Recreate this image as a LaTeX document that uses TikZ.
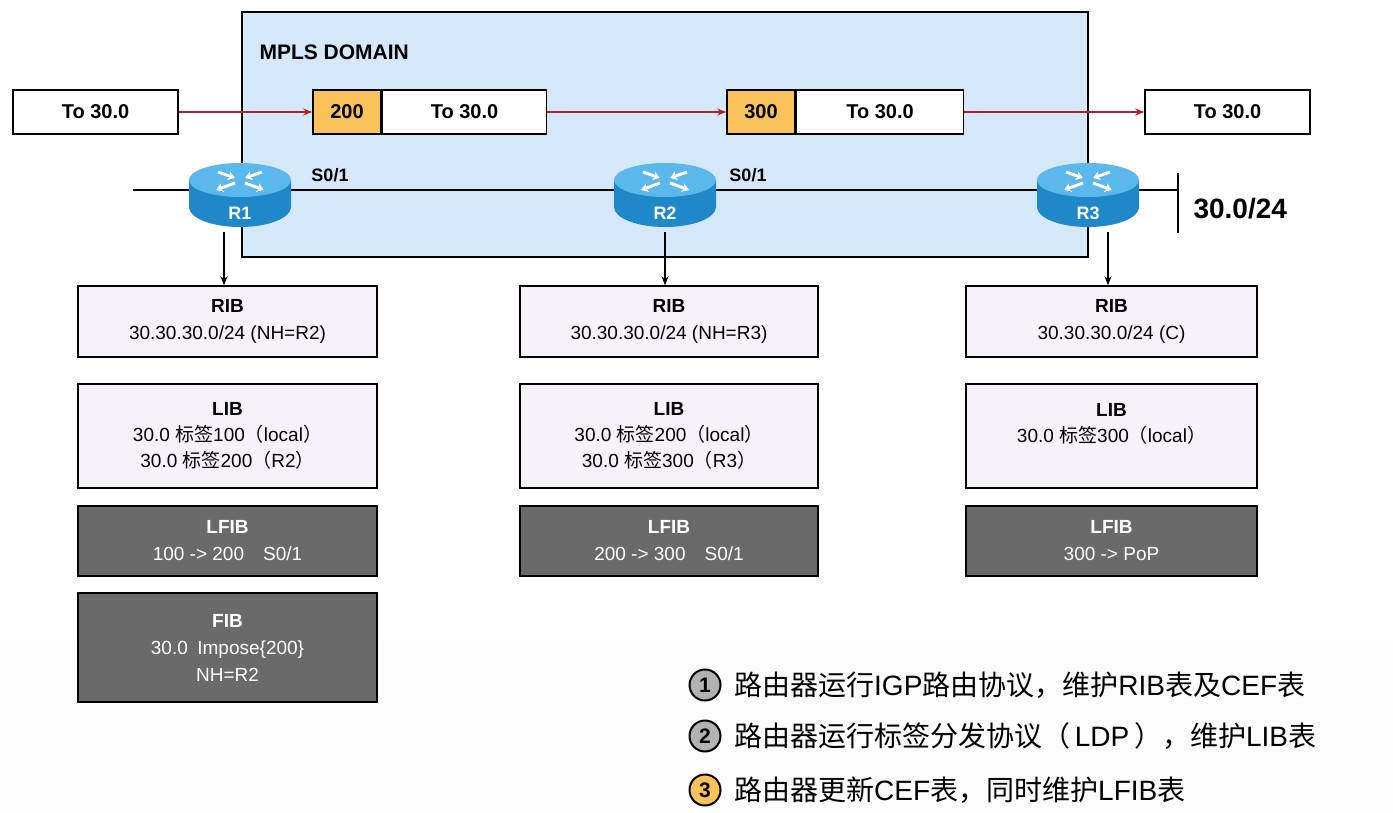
\documentclass[tikz,border=0pt]{standalone}
\usepackage{fontspec}
\setmainfont{Liberation Sans}
\newfontfamily\cjk{Noto Sans CJK SC}
\usetikzlibrary{arrows.meta}
\definecolor{dom}{HTML}{D4E8FA}
\definecolor{lbl}{HTML}{F9C25A}
\definecolor{tab}{HTML}{F5F2F8}
\definecolor{dark}{HTML}{6A6A6A}
\definecolor{rt}{HTML}{1E88C8}
\definecolor{rttop}{HTML}{5BB8EC}
\definecolor{arr}{HTML}{B22222}
\begin{document}
\begin{tikzpicture}[x=1pt,y=-1pt,
  box/.style={draw=black,line width=1.5pt,fill=white,inner sep=0pt,font=\fontsize{20}{24}\selectfont},
  tbl/.style={draw=black,line width=1.5pt,fill=tab,inner sep=0pt,align=center,font=\fontsize{19}{27}\selectfont},
  dtbl/.style={tbl,fill=dark,text=white},
  pk/.style={-{Stealth[length=9pt,width=7pt]},arr,line width=1.2pt},
  dn/.style={-{Stealth[length=9pt,width=7pt]},black,line width=1.2pt},
  num/.style={circle,draw=black,line width=2pt,minimum size=31pt,inner sep=0pt,font=\fontsize{21}{21}\selectfont\bfseries}]
\fill[white] (0,0) rectangle (1393,812);
\fill[white!92!gray!30] (0,640) rectangle (1393,812);
\draw[line width=1.5pt,fill=dom] (242,12) rectangle (1088,257);
\node[anchor=west,font=\fontsize{21}{21}\selectfont\bfseries] (mpls) at (256,52) {MPLS DOMAIN};
% packets
\node[box,minimum width=165pt,minimum height=44pt] (p1) at (95.5,112) {\textbf{To 30.0}};
\node[box,fill=lbl,minimum width=68pt,minimum height=44pt] (l2) at (347,112) {\textbf{200}};
\node[box,minimum width=164pt,minimum height=44pt,anchor=west] (p2) at (l2.east) {\textbf{To 30.0}};
\node[box,fill=lbl,minimum width=68pt,minimum height=44pt] (l3) at (761,112) {\textbf{300}};
\node[box,minimum width=167pt,minimum height=44pt,anchor=west] (p3) at (l3.east) {\textbf{To 30.0}};
\node[box,minimum width=165pt,minimum height=44pt] (p4) at (1227.5,112) {\textbf{To 30.0}};
\draw[pk] (p1.east) -- (l2.west);
\draw[pk] (p2.east) -- (l3.west);
\draw[pk] (p3.east) -- (p4.west);
% link line
\coordinate (lstart) at (133,190);
\coordinate (lend) at (1178,190);
\draw[line width=1.2pt] (lstart) -- (lend);
\draw[line width=1.5pt] (1178,173) -- (1178,233);
\node[anchor=west,font=\fontsize{28}{28}\selectfont\bfseries] (net) at (1190,209) {30.0/24};
% routers
\foreach \n/\x/\lab in {r1/240/R1,r2/665/R2,r3/1088/R3}{
  \begin{scope}[shift={(\x,0)}]
  \fill[rt] (-51,180) -- (-51,207) arc[start angle=180,end angle=0,x radius=51,y radius=20] -- (51,180) -- cycle;
  \fill[rttop] (0,180) ellipse[x radius=51,y radius=17];
  \draw[white,line width=3pt,-{Stealth[length=7pt,width=9pt]}] (-22,172) -- (-5,178);
  \draw[white,line width=3pt,-{Stealth[length=7pt,width=9pt]}] (22,172) -- (5,178);
  \draw[white,line width=3pt,-{Stealth[length=7pt,width=9pt]}] (-5,183) -- (-24,190);
  \draw[white,line width=3pt,-{Stealth[length=7pt,width=9pt]}] (5,183) -- (24,190);
  \end{scope}
  \node[text=white,font=\fontsize{18}{18}\selectfont\bfseries] (\n) at (\x,213) {\lab};
}
\node[font=\fontsize{18}{18}\selectfont\bfseries] (s1) at (330,175) {S0/1};
\node[font=\fontsize{18}{18}\selectfont\bfseries] (s2) at (748,175) {S0/1};
% tables
\node[tbl,minimum width=299pt,minimum height=71pt] (rib1) at (227.5,321.5) {\textbf{RIB}\\30.30.30.0/24 (NH=R2)};
\node[tbl,minimum width=298pt,minimum height=71pt] (rib2) at (669,321.5) {\textbf{RIB}\\30.30.30.0/24 (NH=R3)};
\node[tbl,minimum width=291pt,minimum height=71pt] (rib3) at (1111.5,321.5) {\textbf{RIB}\\30.30.30.0/24 (C)};
\node[tbl,minimum width=299pt,minimum height=104pt,font=\fontsize{19}{26}\selectfont] (lib1) at (227.5,436) {\textbf{LIB}\\30.0 {\cjk 标签}100{\cjk （}local{\cjk ）}\\30.0 {\cjk 标签}200{\cjk （}R2{\cjk ）}};
\node[tbl,minimum width=298pt,minimum height=104pt,font=\fontsize{19}{26}\selectfont] (lib2) at (669,436) {\textbf{LIB}\\30.0 {\cjk 标签}200{\cjk （}local{\cjk ）}\\30.0 {\cjk 标签}300{\cjk （}R3{\cjk ）}};
\node[tbl,minimum width=291pt,minimum height=104pt,font=\fontsize{19}{26}\selectfont,text depth=26pt] (lib3) at (1111.5,436) {\textbf{LIB}\\30.0 {\cjk 标签}300{\cjk （}local{\cjk ）}};
\node[dtbl,minimum width=299pt,minimum height=70pt] (lfib1) at (227.5,541) {\textbf{LFIB}\\100 -> 200\quad S0/1};
\node[dtbl,minimum width=298pt,minimum height=70pt] (lfib2) at (669,541) {\textbf{LFIB}\\200 -> 300\quad S0/1};
\node[dtbl,minimum width=291pt,minimum height=70pt] (lfib3) at (1111.5,541) {\textbf{LFIB}\\300 -> PoP};
\node[dtbl,minimum width=299pt,minimum height=109pt] (fib1) at (227.5,647.5) {\textbf{FIB}\\30.0\enspace Impose\{200\}\\NH=R2};
\coordinate (a1) at (224,232);
\coordinate (a2) at (665,232);
\coordinate (a3) at (1108,232);
\draw[dn] (a1) -- (a1 |- rib1.north);
\draw[dn] (a2) -- (a2 |- rib2.north);
\draw[dn] (a3) -- (a3 |- rib3.north);
% legend
\node[num,fill=gray!60] (n1) at (705,685) {1};
\node[num,fill=gray!60] (n2) at (705,736) {2};
\node[num,fill=lbl] (n3) at (705,790) {3};
\begin{scope}[font=\fontsize{28}{28}\selectfont]
\node[anchor=west,inner sep=0pt] (t1) at (734,685) {{\cjk 路由器运行}IGP{\cjk 路由协议，维护}RIB{\cjk 表及}CEF{\cjk 表}};
\node[anchor=west,inner sep=0pt] (t2) at (734,736) {{\cjk 路由器运行标签分发协议（}\,LDP\,{\cjk ），维护}LIB{\cjk 表}};
\node[anchor=west,inner sep=0pt] (t3) at (734,790) {{\cjk 路由器更新}CEF{\cjk 表，同时维护}LFIB{\cjk 表}};
\end{scope}
\end{tikzpicture}
\end{document}
